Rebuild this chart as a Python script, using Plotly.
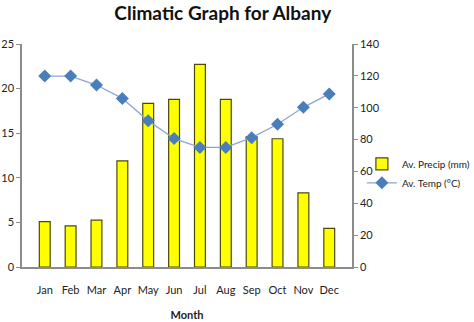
import plotly.graph_objects as go

months = ["Jan", "Feb", "Mar", "Apr", "May", "Jun", "Jul", "Aug", "Sep", "Oct", "Nov", "Dec"]
precip_mm = [28.5, 25.8, 29.4, 66.6, 102.7, 105.2, 127.2, 105.2, 81.7, 80.5, 46.5, 24.3]
temp_c = [21.4, 21.4, 20.4, 18.9, 16.4, 14.4, 13.4, 13.4, 14.5, 16.0, 17.9, 19.4]

font_family = "Lato, Open Sans, sans-serif"

fig = go.Figure()
fig.add_trace(go.Bar(
    x=months, y=precip_mm, name="Av. Precip (mm)", yaxis="y",
    marker=dict(color="#FFFF00", line=dict(color="#4A4A10", width=1.2)),
))
fig.add_trace(go.Scatter(
    x=months, y=temp_c, name="Av. Temp (°C)", yaxis="y2", mode="lines+markers",
    line=dict(color="#8AA6D6", width=1.3),
    marker=dict(symbol="diamond", size=10, color="#4A7EBB"),
))

axis_color = "#8C8C8C"
fig.update_layout(
    width=474, height=322,
    margin=dict(l=22, r=122, t=44, b=55, autoexpand=False),
    paper_bgcolor="white", plot_bgcolor="white",
    font=dict(family=font_family, size=11, color="#222"),
    title=dict(text="<b>Climatic Graph for Albany</b>", x=0.47, xanchor="center",
               y=0.96, yanchor="middle", font=dict(size=19, family=font_family, color="#111")),
    bargap=0.58,
    showlegend=True,
    legend=dict(x=1.03, y=0.42, xanchor="left", yanchor="middle",
                font=dict(size=10), bgcolor="rgba(0,0,0,0)", tracegroupgap=2,
                itemwidth=30),
    xaxis=dict(
        showline=True, linecolor=axis_color, linewidth=1.5, ticks="",
        tickangle=0, ticklabelstandoff=12, showgrid=False, automargin=False,
        title=dict(text="<b>Month</b>", font=dict(size=11), standoff=16),
    ),
    yaxis=dict(
        side="right", range=[0, 140], dtick=20, showline=True, linecolor=axis_color,
        linewidth=1.5, ticks="outside", ticklen=4, tickcolor=axis_color,
        showgrid=False, zeroline=False, automargin=False,
    ),
    yaxis2=dict(
        side="left", overlaying="y", range=[0, 25], dtick=5, showline=True,
        linecolor=axis_color, linewidth=1.5, ticks="outside", ticklen=4,
        tickcolor=axis_color, showgrid=False, zeroline=False, automargin=False,
    ),
)

fig.write_html("out.html")
